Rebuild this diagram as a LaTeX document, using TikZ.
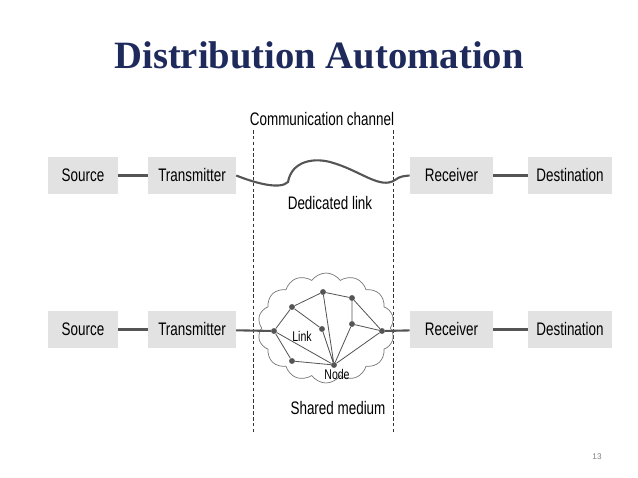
\documentclass[tikz,border=0pt]{standalone}
\usepackage{fontspec}
\setmainfont{Liberation Sans}
\newfontfamily\titlefont{Liberation Serif}
\usetikzlibrary{shapes.symbols}
\definecolor{navy}{HTML}{1F2A5C}
\definecolor{boxg}{HTML}{E2E2E2}
\definecolor{lineg}{HTML}{555555}
\begin{document}
\begin{tikzpicture}[x=0.03cm,y=-0.03cm,
  box/.style={fill=boxg,draw=none,minimum height=1.1cm,inner sep=0pt,font=\fontsize{15.5}{17}\selectfont\addfontfeatures{FakeStretch=0.74}},
  wire/.style={draw=lineg,line width=2.2pt},
  net/.style={draw=lineg,line width=0.7pt},
  dot/.style={circle,fill=lineg,inner sep=0pt,minimum size=5pt},
  lbl/.style={font=\fontsize{15.5}{17}\selectfont\addfontfeatures{FakeStretch=0.74}},
  sml/.style={font=\fontsize{12}{13}\selectfont\addfontfeatures{FakeStretch=0.75}},
  chan/.style={draw=black!80,densely dashed,line width=0.5pt}]
\useasboundingbox (0,0) rectangle (638,478);
\node[font=\titlefont\bfseries\fontsize{33}{38}\selectfont,text=navy] (title) at (319,55) {Distribution Automation};
% channel
\coordinate (c1t) at (253,130); \coordinate (c1b) at (253,432);
\coordinate (c2t) at (393,130); \coordinate (c2b) at (393,432);
\draw[chan] (c1t) -- (c1b);
\draw[chan] (c2t) -- (c2b);
\node[lbl] (cc) at (322,119) {Communication channel};
\node[lbl] (dl) at (330,203) {Dedicated link};
\node[lbl] (sm) at (338,408) {Shared medium};
% top row
\node[box,minimum width=2.1cm] (s1) at (83,175.5) {Source};
\node[box,minimum width=2.64cm] (t1) at (192,175.5) {Transmitter};
\node[box,minimum width=2.5cm] (r1) at (451.5,175.5) {Receiver};
\node[box,minimum width=2.52cm] (d1) at (570,175.5) {Destination};
\draw[wire] (s1) -- (t1);
\draw[wire] (r1) -- (d1);
\draw[draw=lineg,line width=1.8pt] (t1.east) .. controls (255,183) and (280,190) .. (288,182)
  .. controls (292,160) and (315,158) .. (330,162)
  .. controls (360,170) and (380,190) .. (395,180) .. controls (400,176) and (405,176) .. (r1.west);
% bottom row
\node[box,minimum width=2.1cm] (s2) at (83,329.5) {Source};
\node[box,minimum width=2.64cm] (t2) at (192,329.5) {Transmitter};
\node[box,minimum width=2.5cm] (r2) at (451.5,329.5) {Receiver};
\node[box,minimum width=2.52cm] (d2) at (570,329.5) {Destination};
\draw[wire] (s2) -- (t2);
\draw[wire] (r2) -- (d2);
\node[cloud,draw=lineg!80,line width=0.6pt,cloud puffs=14,cloud puff arc=110,aspect=1.3,minimum width=4.1cm,minimum height=3.3cm] (cl) at (326,328) {};
\node[dot] (n1) at (274,331) {};
\node[dot] (n2) at (292,307) {};
\node[dot] (n3) at (323,292) {};
\node[dot] (n4) at (352,298) {};
\node[dot] (n5) at (322,329) {};
\node[dot] (n6) at (352,324) {};
\node[dot] (n7) at (382,331) {};
\node[dot] (n8) at (292,361) {};
\node[dot] (n9) at (334,365) {};
\draw[wire,line width=1.8pt] (t2) -- (n1);
\draw[wire,line width=1.8pt] (n7) -- (r2);
\draw[net] (n1)--(n2) (n2)--(n3) (n3)--(n4) (n4)--(n7) (n3)--(n9) (n2)--(n5) (n5)--(n9)
  (n1)--(n9) (n1)--(n8) (n8)--(n9) (n9)--(n6) (n6)--(n4) (n6)--(n7) (n9)--(n7);
\node[sml] (lk) at (302,336) {Link};
\node[sml] (nd) at (337,374) {Node};
\node[text=gray,font=\fontsize{7}{8}\selectfont] (pg) at (597,457) {13};
\end{tikzpicture}
\end{document}
